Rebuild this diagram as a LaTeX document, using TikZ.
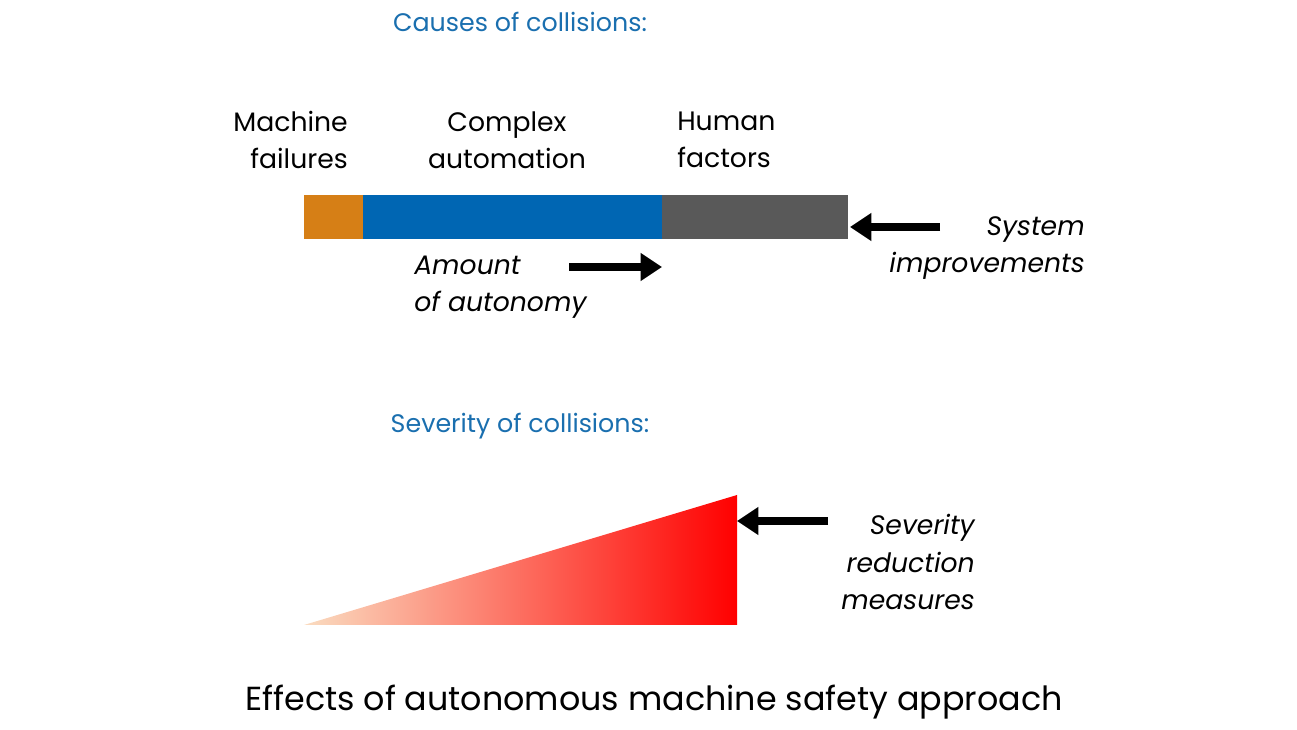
\documentclass[tikz,border=0pt]{standalone}
\usepackage{fontspec}
\setmainfont{Poppins}
\usetikzlibrary{arrows.meta}
\definecolor{hblue}{HTML}{1A6FAF}
\definecolor{borange}{HTML}{D67F16}
\definecolor{bblue}{HTML}{0066B3}
\definecolor{bgray}{HTML}{595959}
\definecolor{peach}{HTML}{FADCC0}
\begin{document}
\begin{tikzpicture}[x=0.75pt,y=-0.75pt,
  lab/.style={font=\fontsize{20}{28}\selectfont, inner sep=0pt},
  ilab/.style={font=\fontsize{20}{28}\selectfont\itshape, inner sep=0pt},
  head/.style={font=\fontsize{19}{24}\selectfont, text=hblue, inner sep=0pt},
  bigarrow/.style={line width=5.5pt,-{Triangle[length=16pt,width=20pt]}}]
\useasboundingbox (0,0) rectangle (1297,730);
\node[head] (h1) at (520,22) {Causes of collisions:};
\fill[borange] (304,195) rectangle (363,239);
\fill[bblue] (363,195) rectangle (662,239);
\fill[bgray] (662,195) rectangle (848,239);
\coordinate (barend) at (850,227);
\coordinate (blueend) at (662,267);
\node[lab, align=right, anchor=east] (mf) at (348,140) {Machine\\failures};
\node[lab, align=center] (ca) at (507,140) {Complex\\automation};
\node[lab, align=left, anchor=west] (hf) at (677,140) {Human\\factors};
\node[ilab, align=right, anchor=east] (si) at (1085,248) {System\\improvements};
\node[ilab, align=left, anchor=west] (aa) at (414,287) {Amount\\of autonomy};
\coordinate (s1) at (940,227);
\coordinate (a1) at (569,267);
\draw[bigarrow] (s1) -- (barend);
\draw[bigarrow] (a1) -- (blueend);
\node[head] (h2) at (520,426) {Severity of collisions:};
\shade[left color=peach, right color=red] (304,625) -- (737,495) -- (737,625) -- cycle;
\coordinate (tri) at (737,521);
\coordinate (s2) at (828,521);
\draw[bigarrow] (s2) -- (tri);
\node[ilab, align=right, anchor=east] (sr) at (975,562) {Severity\\reduction\\measures};
\node[font=\fontsize{25}{30}\selectfont, inner sep=0pt] (t) at (654,702) {Effects of autonomous machine safety approach};
\end{tikzpicture}
\end{document}
